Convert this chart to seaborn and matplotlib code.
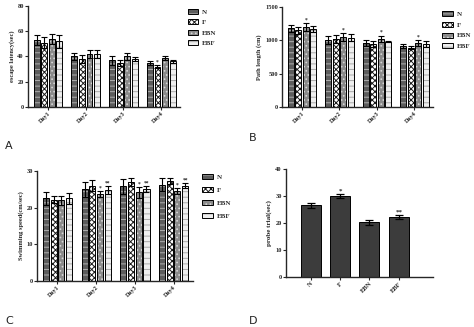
import matplotlib
matplotlib.use("Agg")
import matplotlib.pyplot as plt
import pandas as pd
import seaborn as sns
from matplotlib.patches import Patch, Rectangle

days = ["Day1", "Day2", "Day3", "Day4"]
groups = ["N", "F", "EBN", "EBF"]

# escape latency (sec): one row per group, one column per day
latency_mean = [[53, 40, 37, 35], [51, 38, 35, 32], [54, 42, 40, 39], [52, 42, 38, 36]]
latency_err = [[4, 3, 3.5, 1.5], [4, 3, 2.5, 1], [4, 3, 2.5, 1.5], [5, 3, 1.5, 1.5]]
latency_marks = [["", "", "", ""], ["", "", "", "*"], ["", "", "", ""], ["", "", "", ""]]

# path length (cm)
path_mean = [[1180, 1010, 960, 920], [1150, 1020, 940, 890], [1200, 1050, 1020, 960], [1170, 1040, 980, 950]]
path_err = [[50, 60, 40, 30], [50, 55, 45, 25], [60, 60, 50, 40], [45, 55, 10, 45]]
path_marks = [["", "", "", ""], ["", "", "", ""], ["*", "*", "*", "*"], ["", "", "", ""]]

# swimming speed (cm/sec)
speed_mean = [[22.5, 25.0, 25.8, 26.3], [22.2, 26.0, 27.0, 27.2], [22.0, 23.8, 24.2, 24.5], [22.5, 24.8, 25.2, 26.0]]
speed_err = [[1.7, 2.0, 2.0, 1.8], [1.0, 1.5, 1.0, 0.8], [1.2, 0.8, 1.5, 0.8], [1.5, 1.0, 0.8, 0.7]]
speed_marks = [["", "", "", ""], ["", "", "", ""], ["", "*", "*", "*"], ["", "**", "**", "**"]]

# probe trial (sec)
probe_mean = [26.5, 30.0, 20.2, 22.3]
probe_err = [1.0, 0.8, 1.0, 0.8]
probe_marks = ["", "*", "", "**"]

# fill colour, hatch pattern, hatch colour for each group
styles = {
    "N": ("#5c5c5c", "---", "#b0b0b0"),
    "F": ("#ffffff", "xxxxxx", "#1a1a1a"),
    "EBN": ("#8a8a8a", "....", "#d4d4d4"),
    "EBF": ("#eeeeee", "---", "#a8a8a8"),
}

SERIF = "Liberation Serif"
plt.rcParams["hatch.linewidth"] = 0.7

sns.set_style("ticks")
fig = plt.figure(figsize=(4.74, 3.27), dpi=100)


def style_axis(ax, yticks):
    sns.despine(ax=ax)
    for s in ("left", "bottom"):
        ax.spines[s].set_linewidth(1.0)
    ax.set_yticks(yticks)
    ax.set_ylim(yticks[0], yticks[-1])
    ax.tick_params(axis="both", length=2, width=0.8, pad=1)
    for lab in ax.get_yticklabels():
        lab.set_fontfamily(SERIF)
        lab.set_fontsize(4.6)
        lab.set_fontweight("bold")


def grouped_panel(rect, means, errs, marks, yticks, ylabel, legend_anchor, legend_spacing):
    ax = fig.add_axes(rect)
    rows = []
    for g, mrow in zip(groups, means):
        for d, v in zip(days, mrow):
            rows.append({"day": d, "group": g, "value": v})
    df = pd.DataFrame(rows)
    sns.barplot(data=df, x="day", y="value", hue="group", order=days, hue_order=groups,
                width=0.8, gap=0.22, errorbar=None, legend=False, saturation=1, ax=ax)
    span = yticks[-1] - yticks[0]
    for gi, (g, cont) in enumerate(zip(groups, ax.containers)):
        face, hatch, hcol = styles[g]
        xs = []
        for bar in cont:
            bar.set_facecolor(face)
            bar.set_hatch(hatch)
            bar.set_edgecolor(hcol)
            bar.set_linewidth(0)
            ax.add_patch(Rectangle(bar.get_xy(), bar.get_width(), bar.get_height(),
                                   fill=False, ec="black", lw=0.7, zorder=3))
            xs.append(bar.get_x() + bar.get_width() / 2)
        ax.errorbar(xs, means[gi], yerr=errs[gi], fmt="none", ecolor="black",
                    elinewidth=0.8, capsize=2.2, capthick=0.8, zorder=4)
        for x, m, e, t in zip(xs, means[gi], errs[gi], marks[gi]):
            if t:
                ax.text(x, m + e + span * 0.005, t, ha="center", va="bottom",
                        fontsize=4, fontfamily=SERIF, fontweight="bold")
    ax.set_xlim(-0.53, 3.5)
    ax.set_xlabel("")
    ax.set_ylabel(ylabel, fontfamily=SERIF, fontsize=4.6, fontweight="bold", labelpad=2)
    style_axis(ax, yticks)
    ax.set_xticks(range(len(days)))
    ax.set_xticklabels(days, rotation=45, ha="right", rotation_mode="anchor",
                       fontfamily=SERIF, fontsize=4.4, fontweight="bold")
    handles = []
    for g in groups:
        face, hatch, hcol = styles[g]
        handles.append((Patch(facecolor=face, hatch=hatch, edgecolor=hcol, lw=0),
                        Patch(fill=False, edgecolor="black", lw=0.7)))
    ax.legend(handles, groups, loc="upper left", bbox_to_anchor=legend_anchor,
              frameon=False, borderpad=0, borderaxespad=0, handlelength=1.5,
              handleheight=0.75, handletextpad=0.6, labelspacing=legend_spacing,
              prop={"family": SERIF, "size": 5, "weight": "bold"})
    return ax


grouped_panel([0.059, 0.673, 0.321, 0.309], latency_mean, latency_err, latency_marks,
              [0, 20, 40, 60, 80], "escape latency(sec)", (1.05, 0.97), 0.65)
grouped_panel([0.595, 0.673, 0.319, 0.306], path_mean, path_err, path_marks,
              [0, 500, 1000, 1500], "Path length (cm)", (1.06, 0.96), 0.7)
grouped_panel([0.078, 0.141, 0.329, 0.336], speed_mean, speed_err, speed_marks,
              [0, 10, 20, 30], "Swimming speed(cm/sec)", (1.06, 0.97), 1.0)

# probe trial panel
axd = fig.add_axes([0.603, 0.153, 0.310, 0.330])
sns.barplot(x=groups, y=probe_mean, color="#3c3c3c", saturation=1, width=0.68,
            errorbar=None, ax=axd)
xs = []
for bar in axd.patches:
    bar.set_edgecolor("black")
    bar.set_linewidth(0.7)
    xs.append(bar.get_x() + bar.get_width() / 2)
axd.errorbar(xs, probe_mean, yerr=probe_err, fmt="none", ecolor="black",
             elinewidth=0.9, capsize=3, capthick=0.9, zorder=4)
for x, m, e, t in zip(xs, probe_mean, probe_err, probe_marks):
    if t:
        axd.text(x, m + e + 0.2, t, ha="center", va="bottom", fontsize=5,
                 fontfamily=SERIF, fontweight="bold")
axd.set_xlim(-0.85, 4.16)
axd.set_ylabel("probe trial(sec)", fontfamily=SERIF, fontsize=5, fontweight="bold", labelpad=2)
style_axis(axd, [0, 10, 20, 30, 40])
axd.set_xticks(range(len(groups)))
axd.set_xticklabels(groups, rotation=45, ha="right", rotation_mode="anchor",
                    fontfamily=SERIF, fontsize=4.8, fontweight="bold")

# panel letters
for letter, (px, py) in {"A": (5, 146), "B": (249, 138), "C": (5, 321), "D": (249, 321)}.items():
    fig.text(px / 474, 1 - py / 327, letter, fontsize=8, fontfamily="DejaVu Sans",
             ha="left", va="center", color="#222222")

fig.savefig("out.png", dpi=100)
